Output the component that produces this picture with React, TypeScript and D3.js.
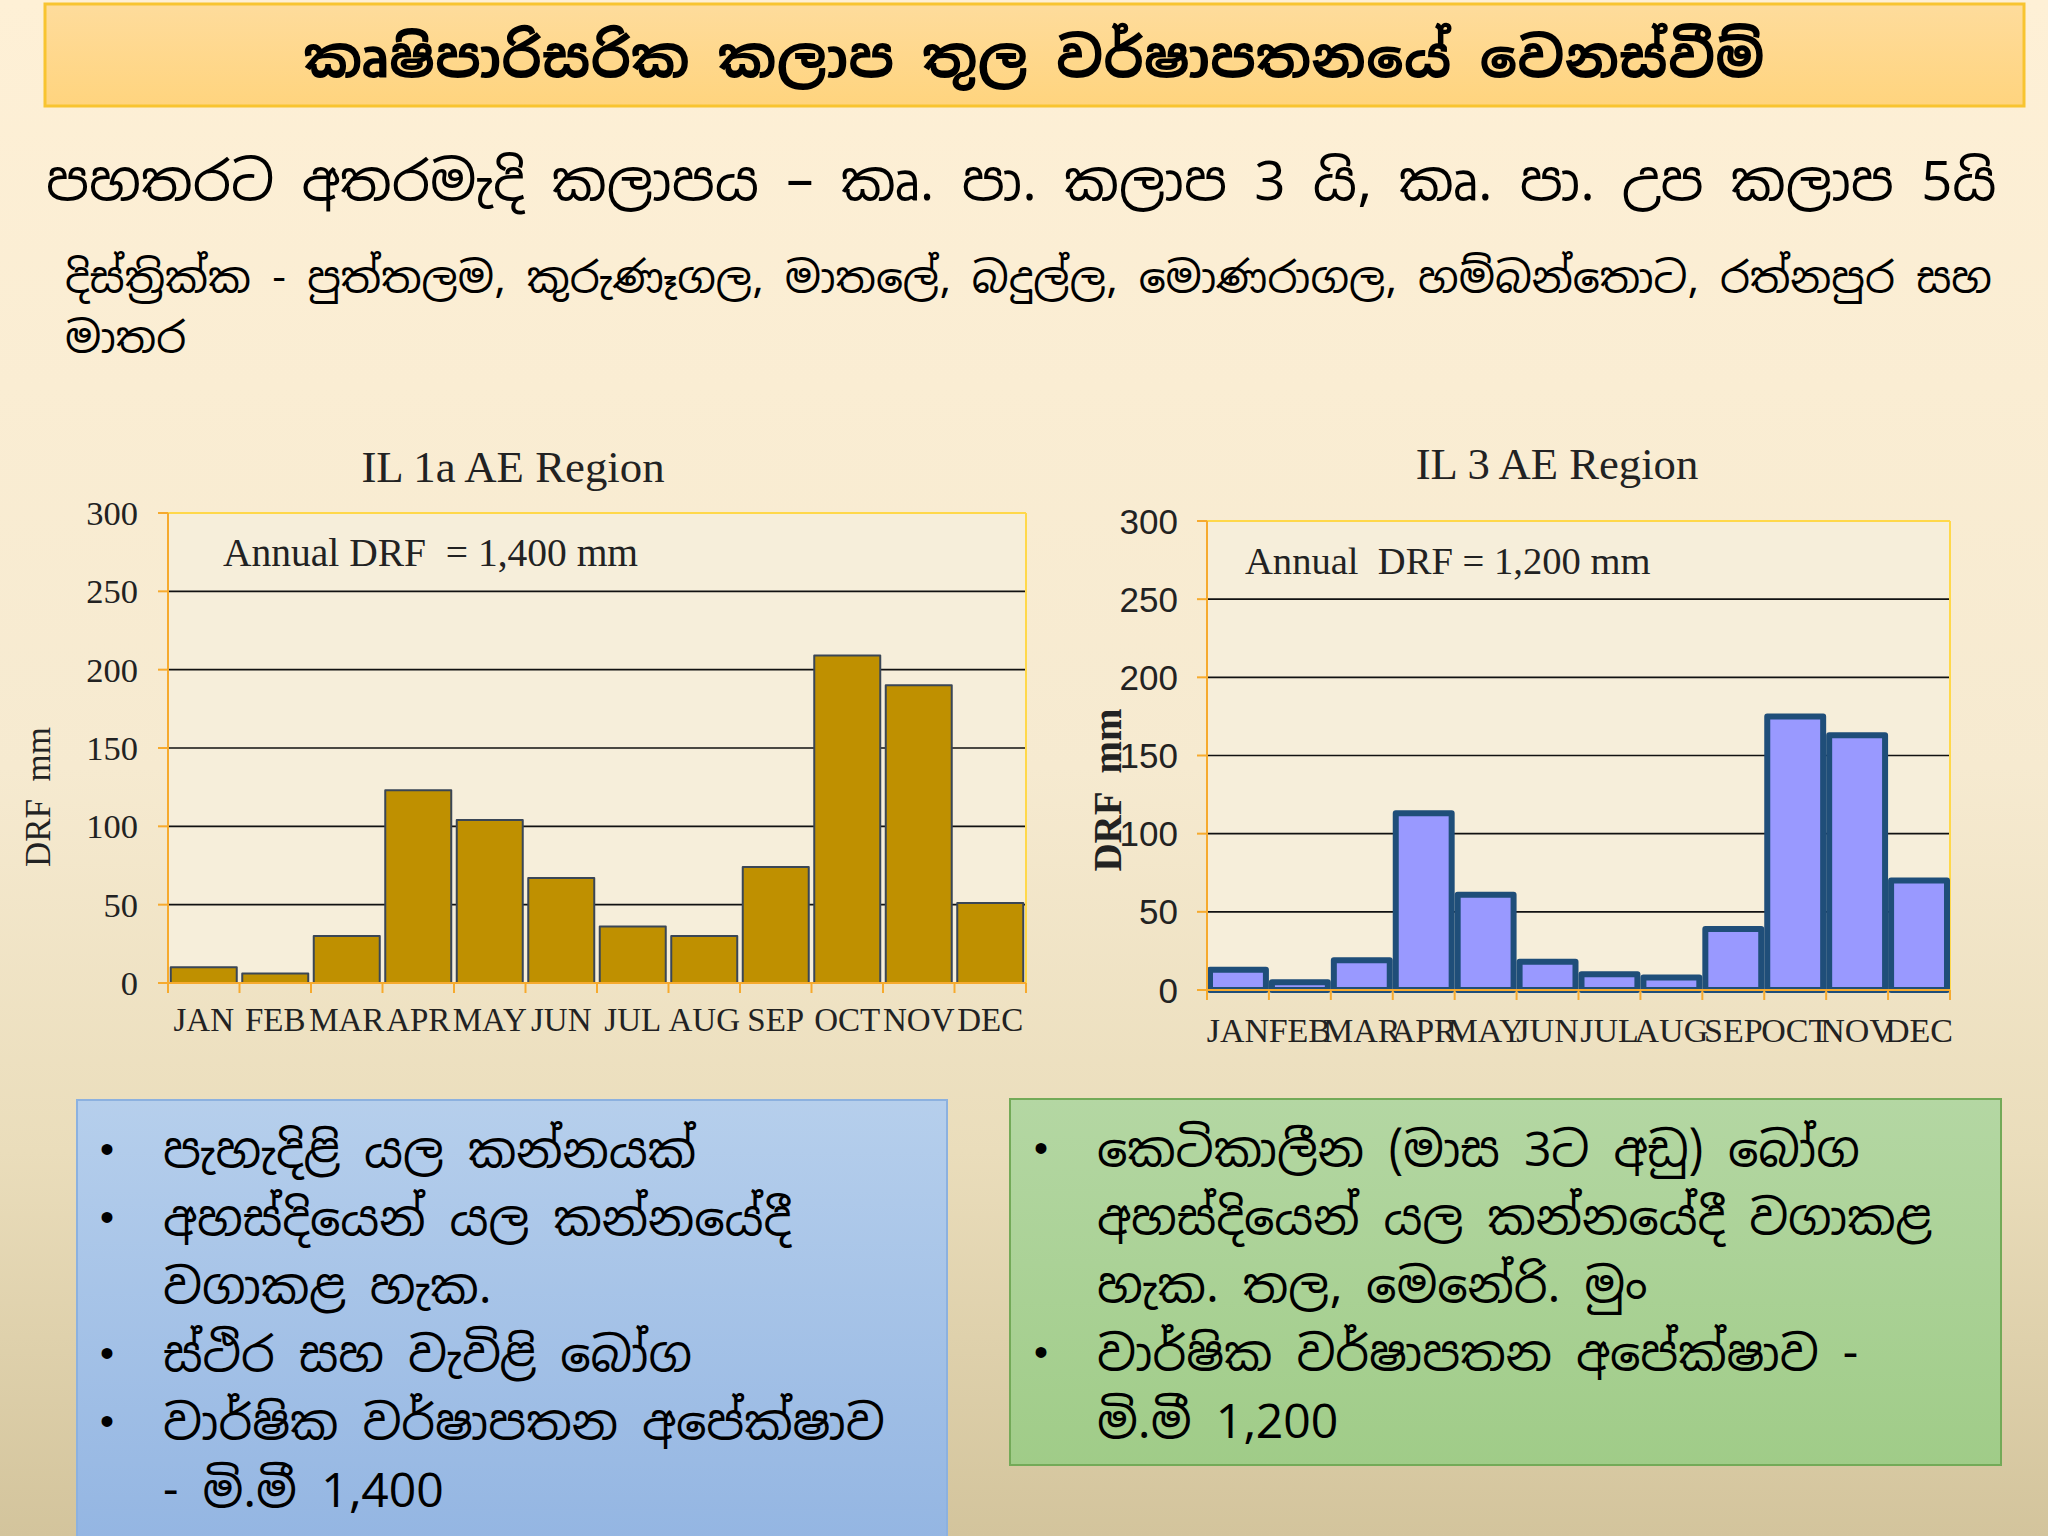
import React from "react";
import * as d3 from "d3";

// Monthly dependable rainfall (mm) for the two agro-ecological regions
const months = ["JAN", "FEB", "MAR", "APR", "MAY", "JUN", "JUL", "AUG", "SEP", "OCT", "NOV", "DEC"];
const il1aRainfall = [10, 6, 30, 123, 104, 67, 36, 30, 74, 209, 190, 51];
const il3Rainfall = [13, 5, 19, 113, 61, 18, 10, 8, 39, 175, 163, 70];
const yTicks = [0, 50, 100, 150, 200, 250, 300];

// Slide texts
const slideTitle = "කෘෂිපාරිසරික කලාප තුල වර්ෂාපතනයේ වෙනස්වීම්";
const zoneLine = "පහතරට අතරමැදි කලාපය – කෘ. පා. කලාප 3 යි, කෘ. පා. උප කලාප 5යි";
const districtLines = [
  "දිස්ත්‍රික්ක - පුත්තලම, කුරුණෑගල, මාතලේ, බදුල්ල, මොණරාගල, හම්බන්තොට, රත්නපුර සහ",
  "මාතර",
];
const blueLines = [
  { bullet: true, text: "පැහැදිළි යල කන්නයක්" },
  { bullet: true, text: "අහස්දියෙන් යල කන්නයේදී" },
  { bullet: false, text: "වගාකළ හැක." },
  { bullet: true, text: "ස්ථිර සහ වැවිළි බෝග" },
  { bullet: true, text: "වාර්ෂික වර්ෂාපතන අපේක්ෂාව" },
  { bullet: false, text: "- මි.මී 1,400" },
];
const greenLines = [
  { bullet: true, text: "කෙටිකාලීන (මාස 3ට අඩු) බෝග" },
  { bullet: false, text: "අහස්දියෙන් යල කන්නයේදී වගාකළ" },
  { bullet: false, text: "හැක. තල, මෙනේරි. මුං" },
  { bullet: true, text: "වාර්ෂික වර්ෂාපතන අපේක්ෂාව -" },
  { bullet: false, text: "මි.මී 1,200" },
];

const SINHALA = "'Iskoola Pota', 'Noto Sans Sinhala', 'Noto Serif Sinhala', 'Lohit Sinhala', 'Noto Sans', sans-serif";
const SERIF = "'Liberation Serif', 'Times New Roman', serif";
const SANS = "'Liberation Sans', Arial, sans-serif";

type ChartProps = {
  values: number[];
  left: number;
  right: number;
  top: number;
  bottom: number;
  title: string;
  titleX: number;
  titleY: number;
  titleSize: number;
  note: string;
  noteX: number;
  noteY: number;
  noteSize: number;
  yLabelX: number;
  yLabelY: number;
  yLabelSize: number;
  yLabelWeight: string;
  tickFont: string;
  tickSize: number;
  tickRight: number;
  xLabelY: number;
  xLabelSize: number;
  barFill: string;
  barStroke: string;
  barStrokeWidth: number;
  padding: number;
};

function RainChart(p: ChartProps) {
  const x = d3
    .scaleBand<string>()
    .domain(months)
    .range([p.left, p.right])
    .paddingInner(p.padding)
    .paddingOuter(p.padding / 2);
  const y = d3.scaleLinear().domain([0, 300]).range([p.bottom, p.top]);
  const step = x.step();
  const axis = "#F6AA2E";
  const frame = "#FFD84A";
  return (
    <g>
      <rect x={p.left} y={p.top} width={p.right - p.left} height={p.bottom - p.top} fill="#F6EEDA" />
      {yTicks
        .filter((t) => t > 0 && t < 300)
        .map((t) => (
          <line key={t} x1={p.left} x2={p.right} y1={y(t)} y2={y(t)} stroke="#111" strokeWidth={1.6} />
        ))}
      {/* frame: light top and right edges */}
      <line x1={p.left} x2={p.right} y1={y(300)} y2={y(300)} stroke={frame} strokeWidth={2} />
      <line x1={p.right} x2={p.right} y1={p.top} y2={p.bottom} stroke={frame} strokeWidth={2} />
      {p.values.map((v, i) => (
        <rect
          key={months[i]}
          x={x(months[i])}
          y={y(v)}
          width={x.bandwidth()}
          height={y(0) - y(v)}
          fill={p.barFill}
          stroke={p.barStroke}
          strokeWidth={p.barStrokeWidth}
          strokeLinejoin="round"
        />
      ))}
      {/* axes */}
      <line x1={p.left} x2={p.left} y1={p.top} y2={p.bottom} stroke={axis} strokeWidth={2} />
      <line x1={p.left} x2={p.right} y1={p.bottom} y2={p.bottom} stroke={axis} strokeWidth={2} />
      {yTicks.map((t) => (
        <g key={t}>
          <line x1={p.left - 10} x2={p.left} y1={y(t)} y2={y(t)} stroke={axis} strokeWidth={2} />
          <text
            x={p.tickRight}
            y={y(t)}
            textAnchor="end"
            dominantBaseline="central"
            fontFamily={p.tickFont}
            fontSize={p.tickSize}
            fill="#222"
          >
            {t}
          </text>
        </g>
      ))}
      {d3.range(months.length + 1).map((i) => (
        <line
          key={i}
          x1={p.left + i * step}
          x2={p.left + i * step}
          y1={p.bottom}
          y2={p.bottom + 10}
          stroke={axis}
          strokeWidth={2}
        />
      ))}
      {months.map((m) => (
        <text
          key={m}
          x={(x(m) as number) + x.bandwidth() / 2}
          y={p.xLabelY}
          textAnchor="middle"
          dominantBaseline="central"
          fontFamily={SERIF}
          fontSize={p.xLabelSize}
          fill="#222"
        >
          {m}
        </text>
      ))}
      <text x={p.titleX} y={p.titleY} textAnchor="middle" fontFamily={SERIF} fontSize={p.titleSize} fill="#222">
        {p.title}
      </text>
      <text x={p.noteX} y={p.noteY} fontFamily={SERIF} fontSize={p.noteSize} fill="#222" style={{ whiteSpace: "pre" }}>
        {p.note}
      </text>
      <text
        transform={`translate(${p.yLabelX},${p.yLabelY}) rotate(-90)`}
        textAnchor="middle"
        dominantBaseline="central"
        fontFamily={SERIF}
        fontWeight={p.yLabelWeight}
        fontSize={p.yLabelSize}
        fill="#222"
        style={{ whiteSpace: "pre" }}
      >
        {"DRF  mm"}
      </text>
    </g>
  );
}

function BulletBox(props: {
  lines: { bullet: boolean; text: string }[];
  bulletX: number;
  textX: number;
  startY: number;
  gap: number;
}) {
  return (
    <g>
      {props.lines.map((l, i) => (
        <g key={i}>
          {l.bullet && (
            <text x={props.bulletX} y={props.startY + i * props.gap} dominantBaseline="central" textAnchor="middle" fontFamily={SANS} fontSize={40} fill="#000">
              •
            </text>
          )}
          <text x={props.textX} y={props.startY + i * props.gap} dominantBaseline="central" fontFamily={SINHALA} fontSize={48} fill="#000">
            {l.text}
          </text>
        </g>
      ))}
    </g>
  );
}

export default function App() {
  return (
    <div style={{ position: "absolute", left: 0, top: 0 }}>
      <svg width={2048} height={1536} viewBox="0 0 2048 1536" style={{ display: "block" }}>
        <defs>
          <linearGradient id="bg" x1="0" y1="0" x2="0" y2="1">
            <stop offset="0" stopColor="#FEF0D6" />
            <stop offset="0.5" stopColor="#F6EAD0" />
            <stop offset="0.75" stopColor="#EADDBB" />
            <stop offset="1" stopColor="#D3C49C" />
          </linearGradient>
          <linearGradient id="titleFill" x1="0" y1="0" x2="0" y2="1">
            <stop offset="0" stopColor="#FEDC9C" />
            <stop offset="1" stopColor="#FFD47E" />
          </linearGradient>
          <linearGradient id="blueFill" x1="0" y1="0" x2="0" y2="1">
            <stop offset="0" stopColor="#B6CFEC" />
            <stop offset="1" stopColor="#93B5E2" />
          </linearGradient>
          <linearGradient id="greenFill" x1="0" y1="0" x2="0" y2="1">
            <stop offset="0" stopColor="#B4D7A3" />
            <stop offset="1" stopColor="#A0CC88" />
          </linearGradient>
        </defs>
        <rect x={0} y={0} width={2048} height={1536} fill="url(#bg)" />

        {/* title banner */}
        <rect x={45} y={4} width={1979} height={102} fill="url(#titleFill)" stroke="#F8C430" strokeWidth={3} />
        <text x={1034} y={56} textAnchor="middle" dominantBaseline="central" fontFamily={SINHALA} fontWeight="bold" fontSize={56} fill="#000">
          {slideTitle}
        </text>

        <text x={46} y={180} dominantBaseline="central" fontFamily={SINHALA} fontSize={54.5} fill="#000">
          {zoneLine}
        </text>
        {districtLines.map((t, i) => (
          <text key={i} x={65} y={277 + i * 60} dominantBaseline="central" fontFamily={SINHALA} fontSize={42.6} fill="#000">
            {t}
          </text>
        ))}

        <RainChart
          values={il1aRainfall}
          left={168}
          right={1026}
          top={513}
          bottom={983}
          title="IL 1a AE Region"
          titleX={513}
          titleY={482}
          titleSize={44.8}
          note={"Annual DRF  = 1,400 mm"}
          noteX={223}
          noteY={566}
          noteSize={39.5}
          yLabelX={38}
          yLabelY={797}
          yLabelSize={35}
          yLabelWeight="normal"
          tickFont={SERIF}
          tickSize={34.5}
          tickRight={138}
          xLabelY={1020}
          xLabelSize={33}
          barFill="#BF9000"
          barStroke="#3A4656"
          barStrokeWidth={2}
          padding={0.077}
        />
        <RainChart
          values={il3Rainfall}
          left={1207}
          right={1950}
          top={521}
          bottom={990}
          title="IL 3 AE Region"
          titleX={1557}
          titleY={479}
          titleSize={44.7}
          note={"Annual  DRF = 1,200 mm"}
          noteX={1245}
          noteY={574}
          noteSize={38.6}
          yLabelX={1107}
          yLabelY={790}
          yLabelSize={39}
          yLabelWeight="bold"
          tickFont={SANS}
          tickSize={35}
          tickRight={1178}
          xLabelY={1030}
          xLabelSize={34}
          barFill="#9999FF"
          barStroke="#1F4E79"
          barStrokeWidth={6}
          padding={0.097}
        />

        {/* note boxes */}
        <rect x={77} y={1100} width={870} height={450} fill="url(#blueFill)" stroke="#8CB1DF" strokeWidth={2} />
        <BulletBox lines={blueLines} bulletX={107} textX={163} startY={1149} gap={68} />
        <rect x={1010} y={1099} width={991} height={366} fill="url(#greenFill)" stroke="#73AA58" strokeWidth={2} />
        <BulletBox lines={greenLines} bulletX={1041} textX={1097} startY={1148} gap={68} />
      </svg>
    </div>
  );
}
